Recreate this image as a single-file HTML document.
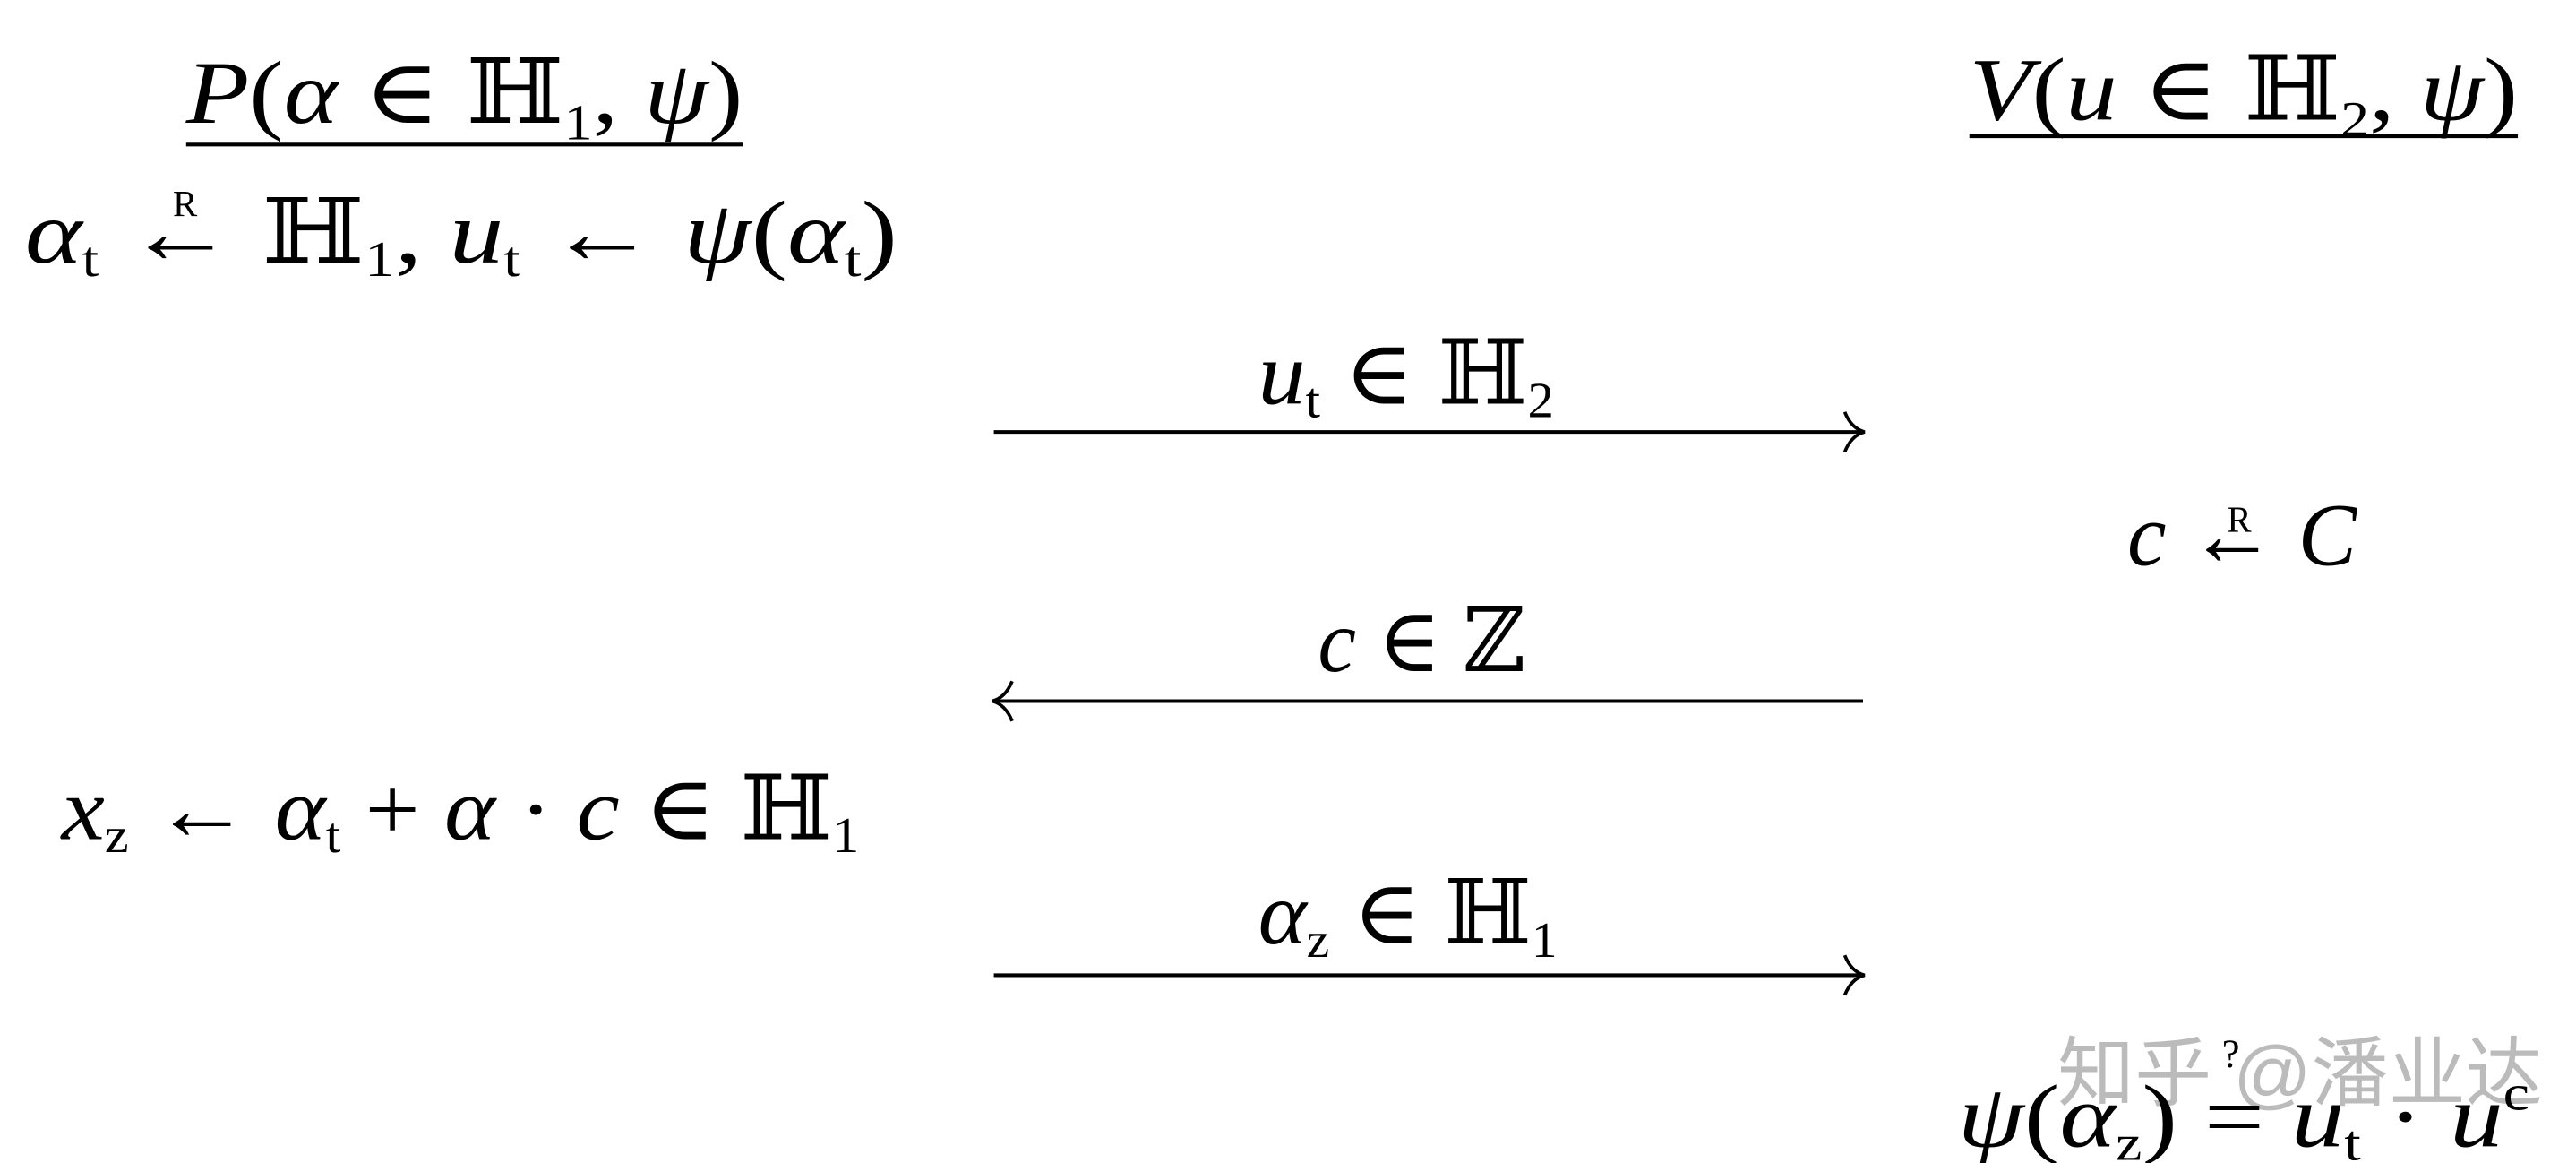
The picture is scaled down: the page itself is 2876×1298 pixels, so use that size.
<!DOCTYPE html>
<html><head><meta charset="utf-8"><style>
html,body{margin:0;padding:0;background:#fff;}
svg{display:block;}
text{font-family:"Liberation Serif","DejaVu Serif",serif;fill:#000;}
.i{font-style:italic;}
.s{font-size:30px;font-style:normal;}
</style></head><body>
<svg width="2876" height="1298" viewBox="0 0 1550 700" preserveAspectRatio="none" xmlns="http://www.w3.org/2000/svg">
<g font-size="54">
<text x="112" y="74" textLength="335" lengthAdjust="spacingAndGlyphs"><tspan class="i">P</tspan>(<tspan class="i">α</tspan> ∈ ℍ<tspan class="s" dy="10">1</tspan><tspan dy="-10">,  </tspan><tspan class="i">ψ</tspan>)</text>
<line x1="112" y1="87" x2="447" y2="87" stroke="#000" stroke-width="2.2"/>
<text x="15" y="158" textLength="525" lengthAdjust="spacingAndGlyphs"><tspan class="i">α</tspan><tspan class="s" dy="8">t</tspan><tspan dy="-8"> ←</tspan> ℍ<tspan class="s" dy="8">1</tspan><tspan dy="-8">,   </tspan><tspan class="i">u</tspan><tspan class="s" dy="8">t</tspan><tspan dy="-8"> ← </tspan><tspan class="i">ψ</tspan>(<tspan class="i">α</tspan><tspan class="s" dy="8">t</tspan><tspan dy="-8">)</tspan></text>
<text x="104" y="130" font-size="22">R</text>
<text x="1185" y="72" textLength="330" lengthAdjust="spacingAndGlyphs"><tspan class="i">V</tspan>(<tspan class="i">u</tspan> ∈ ℍ<tspan class="s" dy="10">2</tspan><tspan dy="-10">,  </tspan><tspan class="i">ψ</tspan>)</text>
<line x1="1185" y1="82" x2="1515" y2="82" stroke="#000" stroke-width="2.2"/>
<text x="757" y="243" textLength="178" lengthAdjust="spacingAndGlyphs"><tspan class="i">u</tspan><tspan class="s" dy="8">t</tspan><tspan dy="-8"> ∈ ℍ</tspan><tspan class="s" dy="8">2</tspan></text>
<line x1="598" y1="260" x2="1121" y2="260" stroke="#000" stroke-width="2.2"/>
<path d="M1110 248 Q1114 258 1122 260 Q1114 262 1110 272" fill="none" stroke="#000" stroke-width="2"/>
<text x="1280" y="340" textLength="138" lengthAdjust="spacingAndGlyphs"><tspan class="i">c</tspan> ← <tspan class="i">C</tspan></text>
<text x="1340" y="320" font-size="22">R</text>
<text x="793" y="404" textLength="125" lengthAdjust="spacingAndGlyphs"><tspan class="i">c</tspan> ∈ ℤ</text>
<line x1="599" y1="422" x2="1121" y2="422" stroke="#000" stroke-width="2.2"/>
<path d="M609 410 Q605 420 597 422 Q605 424 609 434" fill="none" stroke="#000" stroke-width="2"/>
<text x="37" y="505" textLength="480" lengthAdjust="spacingAndGlyphs"><tspan class="i">x</tspan><tspan class="s" dy="8">z</tspan><tspan dy="-8"> ← </tspan><tspan class="i">α</tspan><tspan class="s" dy="8">t</tspan><tspan dy="-8"> + </tspan><tspan class="i">α</tspan> · <tspan class="i">c</tspan> ∈ ℍ<tspan class="s" dy="8">1</tspan></text>
<text x="757" y="568" textLength="180" lengthAdjust="spacingAndGlyphs"><tspan class="i">α</tspan><tspan class="s" dy="8">z</tspan><tspan dy="-8"> ∈ ℍ</tspan><tspan class="s" dy="8">1</tspan></text>
<line x1="598" y1="587" x2="1121" y2="587" stroke="#000" stroke-width="2.2"/>
<path d="M1110 575 Q1114 585 1122 587 Q1114 589 1110 599" fill="none" stroke="#000" stroke-width="2"/>
<text x="1238" y="662" font-size="46" style="fill:#bbb;font-family:'Liberation Sans','Noto Sans CJK SC',sans-serif" textLength="292" lengthAdjust="spacingAndGlyphs">知乎 @潘业达</text>
<text x="1178" y="690" textLength="344" lengthAdjust="spacingAndGlyphs"><tspan class="i">ψ</tspan>(<tspan class="i">α</tspan><tspan class="s" dy="8">z</tspan><tspan dy="-8">) = </tspan><tspan class="i">u</tspan><tspan class="s" dy="8">t</tspan><tspan dy="-8"> · </tspan><tspan class="i">u</tspan><tspan class="s i" dy="-22">c</tspan></text>
<text x="1337" y="642" font-size="24">?</text>
</g>
</svg>
</body></html>
